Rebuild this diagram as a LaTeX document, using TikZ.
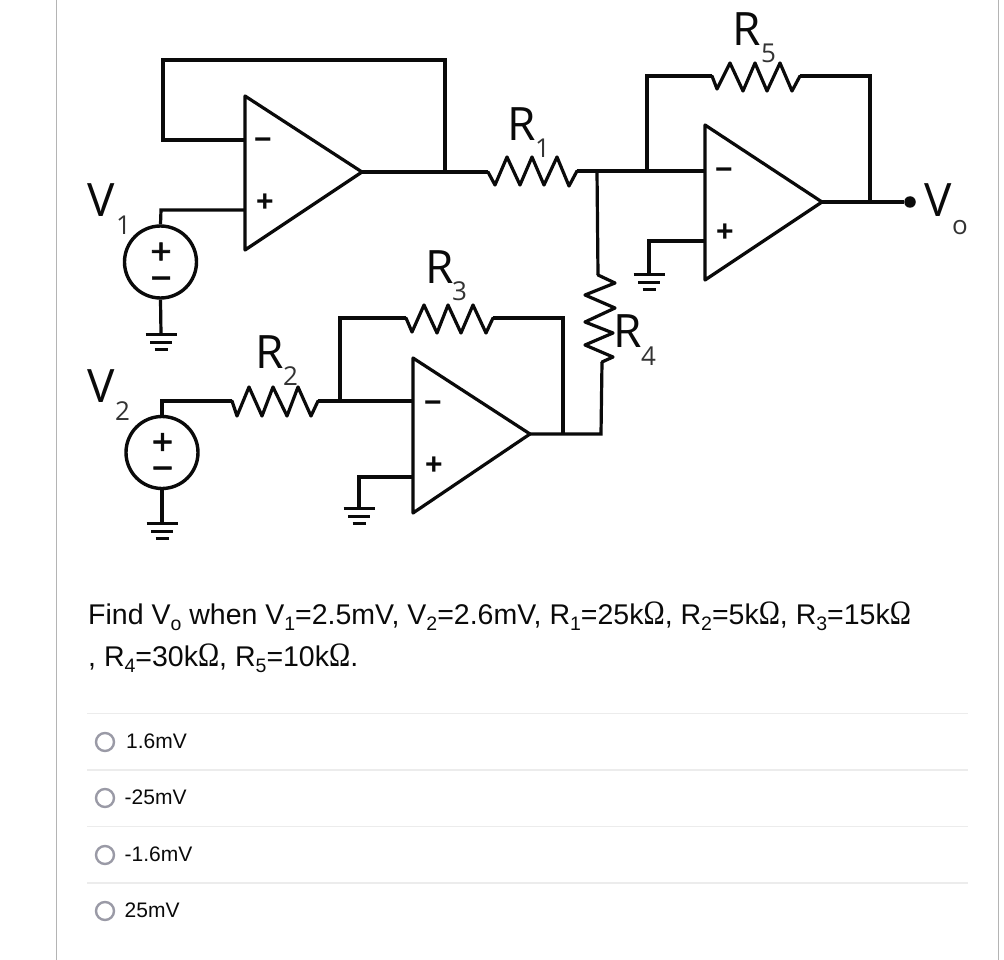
\documentclass[tikz,border=0pt]{standalone}
\usepackage{fontspec}
\setmainfont{Liberation Sans}
\newfontfamily\labfont{Open Sans}
\newfontfamily\omfont{Liberation Serif}
\newfontfamily\signfont[FakeBold=1.5]{Liberation Sans}
\newcommand{\qsub}[1]{\raisebox{-0.22em}{\fontsize{19.5}{21}\selectfont #1}}
\newcommand{\omg}{\scalebox{1.0}[1.2]{\omfont Ω}}
\definecolor{ink}{HTML}{0A0A0A}
\definecolor{subink}{HTML}{333333}
\definecolor{frame}{HTML}{B4B4B4}
\definecolor{rule}{HTML}{ECECEC}
\definecolor{radio}{HTML}{9A9AA6}
\tikzset{
  wire/.style={draw=ink,line width=3.2pt,line join=miter,line cap=butt},
  rzig/.style={draw=ink,line width=3.2pt,line join=round,line cap=round},
  src/.style={circle,draw=ink,line width=3.4pt,minimum size=72pt,inner sep=0pt,fill=white},
  biglab/.style={anchor=base west,inner sep=0pt,text=ink,font=\labfont\fontsize{46}{50}\selectfont},
  sublab/.style={anchor=base west,inner sep=0pt,text=subink,font=\labfont\fontsize{26}{30}\selectfont},
  srcsign/.style={anchor=base,inner sep=0pt,text=ink,font=\signfont\fontsize{36}{40}\selectfont},
  ampsign/.style={anchor=base,inner sep=0pt,text=ink,font=\bfseries\fontsize{30}{34}\selectfont},
  qtext/.style={anchor=base west,inner sep=0pt,text=ink,font=\fontsize{28.5}{32}\selectfont},
  opt/.style={anchor=base west,inner sep=0pt,text=ink,font=\fontsize{21}{24}\selectfont},
  radiobtn/.style={circle,draw=radio,line width=2.4pt,minimum size=18pt,inner sep=0pt},
  sep/.style={draw=rule,line width=1.5pt},
  border/.style={draw=frame,line width=1.5pt},
  gnd/.pic={
    \draw[draw=ink,line width=3pt] (-15.5,0) -- (15.5,0);
    \draw[draw=ink,line width=3pt] (-11,8) -- (11,8);
    \draw[draw=ink,line width=3pt] (-6.5,15) -- (6.5,15);
  }
}
\begin{document}
\begin{tikzpicture}[x=1pt,y=-1pt]
\useasboundingbox (0,0) rectangle (1004,960);
\fill[white] (0,0) rectangle (1004,960);
% page frame
\coordinate (fl1) at (56.5,0); \coordinate (fl2) at (56.5,960);
\coordinate (fr1) at (998.5,0); \coordinate (fr2) at (998.5,960);
\draw[border] (fl1) -- (fl2);
\draw[border] (fr1) -- (fr2);

% op-amp corners
\coordinate (a1t) at (245,96); \coordinate (a1b) at (245,250); \coordinate (a1o) at (362,172);
\coordinate (a2t) at (413,358); \coordinate (a2b) at (413,513); \coordinate (a2o) at (530,434);
\coordinate (a3t) at (705,125); \coordinate (a3b) at (705,280); \coordinate (a3o) at (822,202);
\draw[wire,line join=round] (a1t) -- (a1o) -- (a1b) -- cycle;
\draw[wire,line join=round] (a2t) -- (a2o) -- (a2b) -- cycle;
\draw[wire,line join=round] (a3t) -- (a3o) -- (a3b) -- cycle;

% sources
\node[src] (s1) at (160.5,262) {};
\node[src] (s2) at (162,452.5) {};

% junctions and corners
\coordinate (a1m) at (245,140); \coordinate (a1p) at (245,210);
\coordinate (fb1a) at (163,140); \coordinate (fb1b) at (163,60); \coordinate (fb1c) at (445,60); \coordinate (fb1d) at (445,172);
\coordinate (s1top) at (161,210);
\coordinate (g1) at (161,334);
\coordinate (s2top) at (162,401);
\coordinate (g2) at (162,523);
\coordinate (r1a) at (488,172); \coordinate (r1b) at (577,171);
\coordinate (j4) at (597,171);
\coordinate (j5) at (647,171);
\coordinate (a3m) at (705,171); \coordinate (a3p) at (705,241);
\coordinate (r5a) at (712,76); \coordinate (r5b) at (800,76);
\coordinate (c5a) at (647,76); \coordinate (c5b) at (870,76); \coordinate (j6) at (870,202);
\node[circle,fill=ink,minimum size=11.5pt,inner sep=0pt] (vout) at (910,202) {};
\coordinate (g3c) at (649,241); \coordinate (g3) at (649,274);
\coordinate (r4a) at (598,275); \coordinate (r4b) at (602,362);
\coordinate (j7) at (601,434); \coordinate (j8) at (563,434);
\coordinate (c3a) at (340,318); \coordinate (c3b) at (563,318);
\coordinate (r3a) at (406,318); \coordinate (r3b) at (493,318);
\coordinate (r2a) at (232,401); \coordinate (r2b) at (318,401);
\coordinate (j9) at (340,401); \coordinate (a2m) at (413,401);
\coordinate (a2p) at (413,477); \coordinate (g4c) at (359,477); \coordinate (g4) at (359,508);

% wires
\draw[wire] (a1m) -- (fb1a) -- (fb1b) -- (fb1c) -- (fb1d);
\draw[wire] (a1p) -- (s1top) -- (s1.north);
\draw[wire] (s1.south) -- (g1);
\draw[wire] (s2.north) -- (s2top) -- (r2a);
\draw[wire] (s2.south) -- (g2);
\draw[wire] (a1o) -- (r1a);
\draw[wire] (r1b) -- (a3m);
\draw[wire] (j5) -- (c5a) -- (r5a);
\draw[wire] (r5b) -- (c5b) -- (j6);
\draw[wire] (a3o) -- (vout);
\draw[wire] (a3p) -- (g3c) -- (g3);
\draw[wire] (j4) -- (r4a);
\draw[wire] (r4b) -- (j7) -- (a2o);
\draw[wire] (j8) -- (c3b) -- (r3b);
\draw[wire] (r3a) -- (c3a) -- (j9);
\draw[wire] (r2b) -- (a2m);
\draw[wire] (a2p) -- (g4c) -- (g4);

% resistors
\draw[rzig] (r1a) -- (495,185) -- (507,157) -- (520,185) -- (532,157) -- (544,185) -- (557,157) -- (569,186) -- (r1b);
\draw[rzig] (r2a) -- (237,416) -- (249,387) -- (262,416) -- (273,387) -- (287,416) -- (298,387) -- (311,416) -- (r2b);
\draw[rzig] (r3a) -- (412,332) -- (424,305) -- (437,333) -- (448,305) -- (461,333) -- (473,305) -- (486,333) -- (r3b);
\draw[rzig] (r4a) -- (615,283) -- (585,295) -- (615,308) -- (585,322) -- (613,333) -- (585,345) -- (613,357) -- (r4b);
\draw[rzig] (r5a) -- (717,89) -- (730,63) -- (743,91) -- (755,63) -- (767,91) -- (780,63) -- (792,91) -- (r5b);

% grounds
\pic at (g1) {gnd};
\pic at (g2) {gnd};
\pic at (g3) {gnd};
\pic at (g4) {gnd};

% signs
\node[srcsign] (s1plus) at (161,263.5) {+};
\node[srcsign] (s1minus) at (161,290) {−};
\node[srcsign] (s2plus) at (162.5,454) {+};
\node[srcsign] (s2minus) at (162.5,480) {−};
\node[ampsign] (a1minus) at (263,150) {−};
\node[ampsign] (a1plus) at (265,212) {+};
\node[ampsign] (a2minus) at (433,412) {−};
\node[ampsign] (a2plus) at (434,474) {+};
\node[ampsign] (a3minus) at (724,180) {−};
\node[ampsign] (a3plus) at (725,241) {+};

% labels
\node[biglab] (lv1) at (87,217) {V};
\node[sublab] (lv1s) at (116,234) {1};
\node[biglab] (lv2) at (87,402) {V};
\node[sublab] (lv2s) at (115,420) {2};
\node[biglab] (lvo) at (924,217) {V};
\node[sublab] (lvos) at (952,234) {o};
\node[biglab] (lr1) at (507,141) {R};
\node[sublab] (lr1s) at (535,158) {1};
\node[biglab] (lr2) at (255,368) {R};
\node[sublab] (lr2s) at (283,385) {2};
\node[biglab] (lr3) at (425,283) {R};
\node[sublab] (lr3s) at (452,300) {3};
\node[biglab] (lr4) at (613,347) {R};
\node[sublab] (lr4s) at (641,365) {4};
\node[biglab] (lr5) at (732,46) {R};
\node[sublab] (lr5s) at (761,63) {5};

% question
\node[qtext] (q1) at (88,624) {Find V\qsub{o} when V\qsub{1}=2.5mV, V\qsub{2}=2.6mV, R\qsub{1}=25k\omg, R\qsub{2}=5k\omg, R\qsub{3}=15k\omg};
\node[qtext] (q2) at (88,666) {, R\qsub{4}=30k\omg, R\qsub{5}=10k\omg.};

% options
\coordinate (l1a) at (87,713.5); \coordinate (l1b) at (968,713.5);
\coordinate (l2a) at (87,770); \coordinate (l2b) at (968,770);
\coordinate (l3a) at (87,826.5); \coordinate (l3b) at (968,826.5);
\coordinate (l4a) at (87,883); \coordinate (l4b) at (968,883);
\draw[sep] (l1a) -- (l1b);
\draw[sep] (l2a) -- (l2b);
\draw[sep] (l3a) -- (l3b);
\draw[sep] (l4a) -- (l4b);
\node[radiobtn] (o1) at (105,742) {};
\node[radiobtn] (o2) at (105,798) {};
\node[radiobtn] (o3) at (105,855) {};
\node[radiobtn] (o4) at (105,911) {};
\node[opt] (t1) at (126,748) {1.6mV};
\node[opt] (t2) at (124.5,804) {-25mV};
\node[opt] (t3) at (124.5,861) {-1.6mV};
\node[opt] (t4) at (124.5,917) {25mV};
\end{tikzpicture}
\end{document}
